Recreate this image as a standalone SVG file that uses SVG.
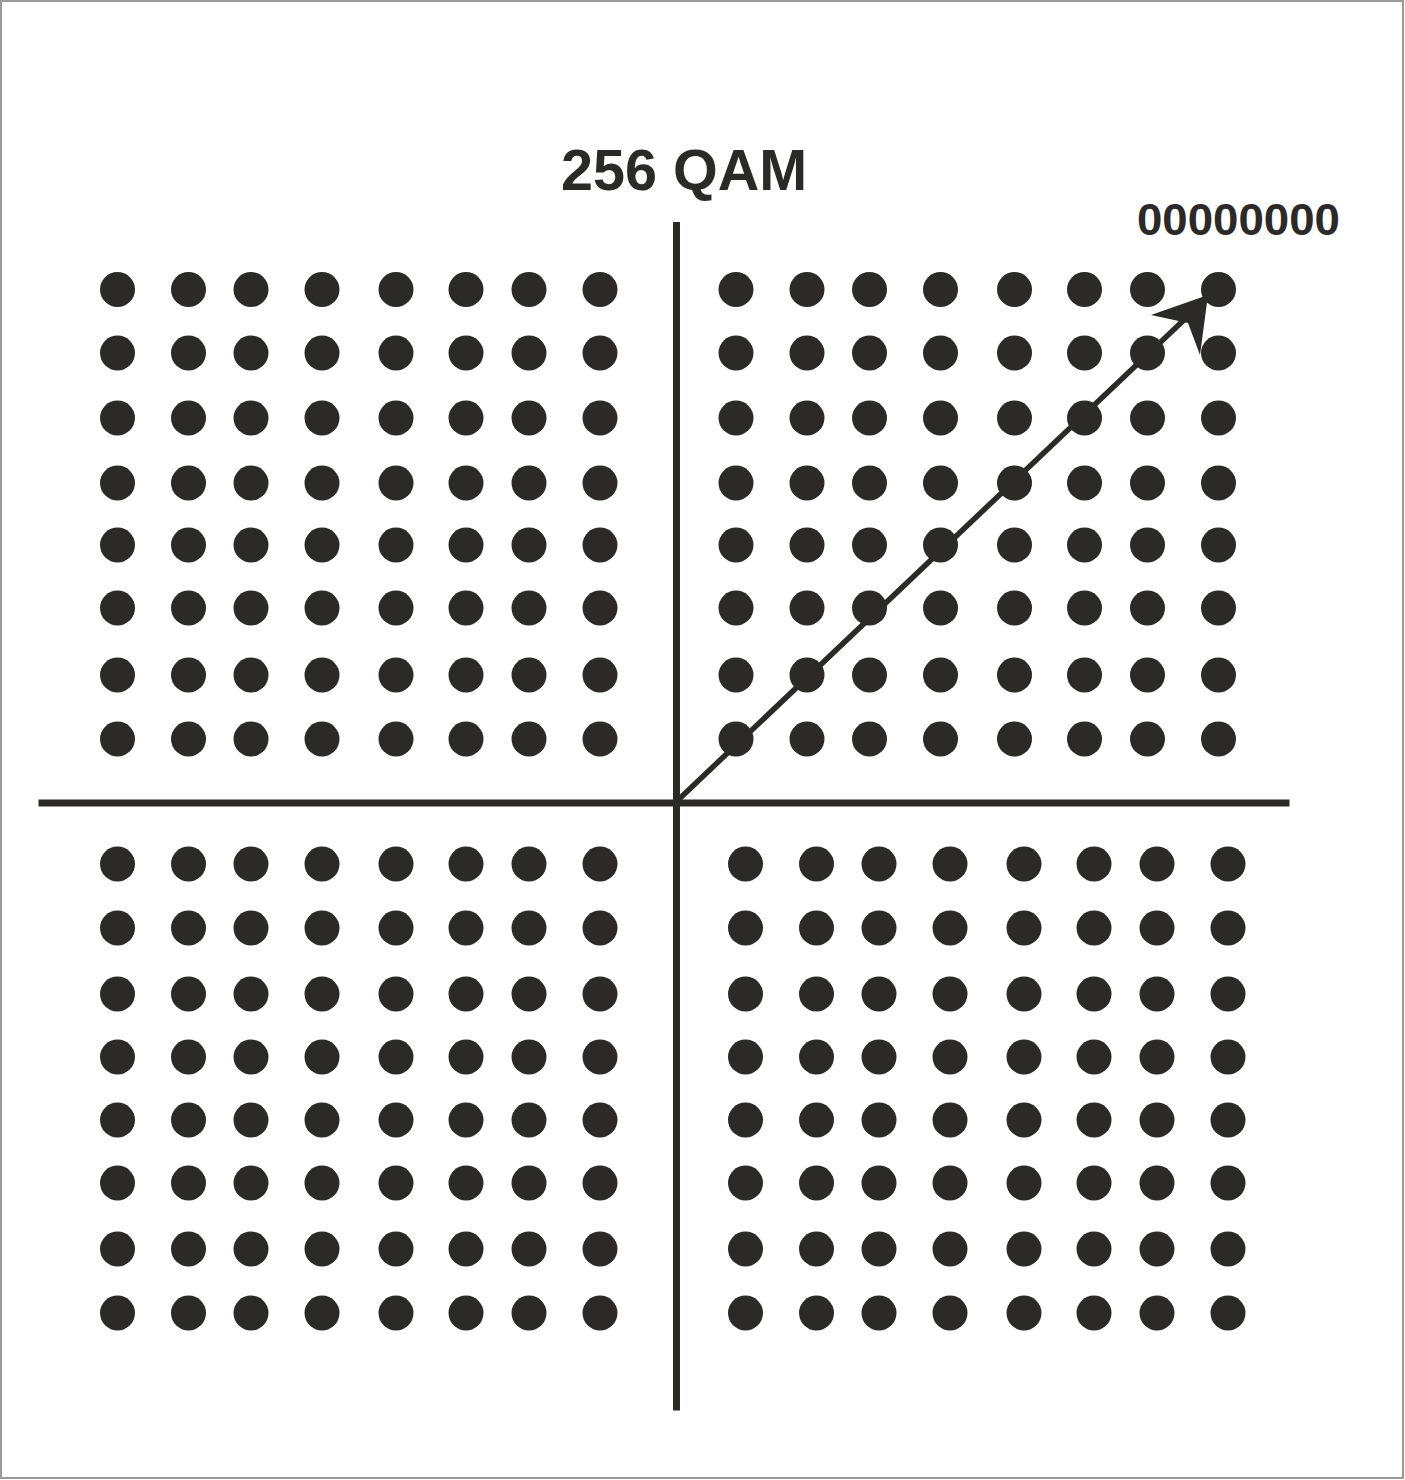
<svg xmlns="http://www.w3.org/2000/svg" width="1405" height="1480" viewBox="0 0 1405 1480">
<style>
.d{fill:#2b2a29}
.ax{stroke:#2b2a29;stroke-width:7;fill:none}
.t{font-family:"Liberation Sans",Arial,sans-serif;font-weight:bold;fill:#2b2a29}
</style>
<defs>
<g id="row8L">
<circle class="d" cx="117.5" cy="0" r="17.5"/><circle class="d" cx="188.5" cy="0" r="17.5"/><circle class="d" cx="251" cy="0" r="17.5"/><circle class="d" cx="322" cy="0" r="17.5"/><circle class="d" cx="396" cy="0" r="17.5"/><circle class="d" cx="466" cy="0" r="17.5"/><circle class="d" cx="529" cy="0" r="17.5"/><circle class="d" cx="600" cy="0" r="17.5"/>
</g>
<g id="quadTop">
<use href="#row8L" y="289.5"/><use href="#row8L" y="353"/><use href="#row8L" y="418"/><use href="#row8L" y="483"/><use href="#row8L" y="545"/><use href="#row8L" y="608"/><use href="#row8L" y="675"/><use href="#row8L" y="739"/>
</g>
<g id="quadBot">
<use href="#row8L" y="864"/><use href="#row8L" y="928"/><use href="#row8L" y="994"/><use href="#row8L" y="1057"/><use href="#row8L" y="1120"/><use href="#row8L" y="1183"/><use href="#row8L" y="1249"/><use href="#row8L" y="1313"/>
</g>
</defs>
<rect x="0" y="0" width="1405" height="1480" fill="#ffffff"/>
<rect x="1" y="1" width="1402" height="1477" fill="none" stroke="#9a9a9a" stroke-width="2"/>
<g id="title"><text class="t" x="561" y="190" font-size="57.5">256 QAM</text></g>
<g id="label"><text class="t" x="1137" y="235" font-size="45" textLength="203" lengthAdjust="spacingAndGlyphs">00000000</text></g>
<g id="q2"><use href="#quadTop"/></g>
<g id="q1"><use href="#quadTop" x="618.5"/></g>
<g id="q3"><use href="#quadBot"/></g>
<g id="q4"><use href="#quadBot" x="628"/></g>
<g id="connectors">
<line class="ax" x1="676.5" y1="222" x2="676.5" y2="1410.5"/>
<line class="ax" x1="38.5" y1="803" x2="1289.5" y2="803"/>
<line x1="677" y1="801" x2="1186" y2="318" stroke="#2b2a29" stroke-width="5.5"/>
<polygon class="d" points="1208,295 1200,355 1188,323 1151,315"/>
</g>
</svg>
